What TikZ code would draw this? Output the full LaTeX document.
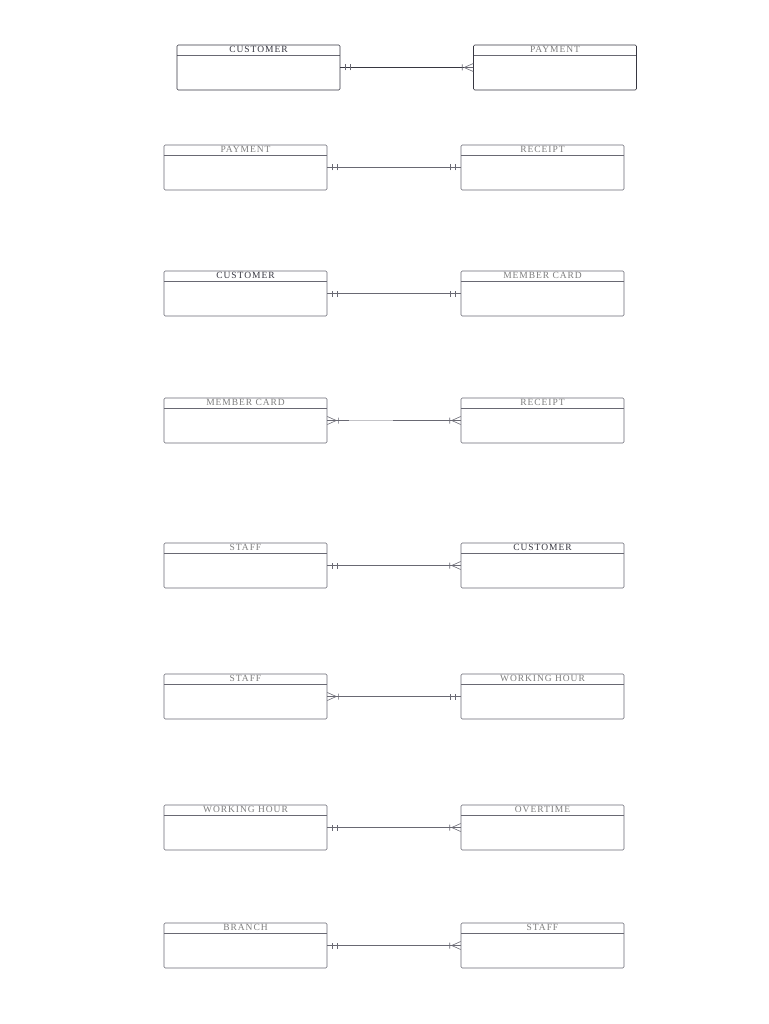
\documentclass[tikz,border=0pt]{standalone}
\usepackage{fontspec}
\setmainfont{Liberation Serif}
\newfontfamily\erfont[LetterSpace=10]{Liberation Serif}
\usepackage{xcolor}
\usetikzlibrary{positioning}
\usetikzlibrary{decorations.markings}

\definecolor{erline}{RGB}{105,105,115}
\definecolor{ertext}{RGB}{125,125,125}
\definecolor{erdark}{RGB}{55,55,65}

\tikzset{
entity/.style={draw=erline, line width=0.6pt, rounded corners=1.2pt,
  minimum width=163pt, minimum height=45pt, inner sep=0pt,
  path picture={\draw[erline, line width=0.6pt]
    ([yshift=-10pt]path picture bounding box.north west) --
    ([yshift=-10pt]path picture bounding box.north east);}},
head/.style={font=\erfont\fontsize{9.5}{9.5}\selectfont, text=ertext, inner sep=0pt},
headdark/.style={head, text=erdark},
rel/.style={draw=erline, line width=0.6pt},
% mandatory one, at the start or the end of a relation
onestart/.style={postaction={decorate, decoration={markings,
  mark=at position 5pt with {\draw[erline, line width=0.6pt] (0,-3pt)--(0,3pt);},
  mark=at position 10pt with {\draw[erline, line width=0.6pt] (0,-3pt)--(0,3pt);}}}},
oneend/.style={postaction={decorate, decoration={markings,
  mark=at position -5pt with {\draw[erline, line width=0.6pt] (0,-3pt)--(0,3pt);},
  mark=at position -10pt with {\draw[erline, line width=0.6pt] (0,-3pt)--(0,3pt);}}}},
% one or many
manystart/.style={postaction={decorate, decoration={markings,
  mark=at position 0pt with {\draw[erline, line width=0.6pt]
    (0,4pt)--(9pt,0)--(0,-4pt) (0,0)--(9pt,0) (11pt,-3pt)--(11pt,3pt);}}}},
manyend/.style={postaction={decorate, decoration={markings,
  mark=at position 1 with {\draw[erline, line width=0.6pt]
    (0,4pt)--(-9pt,0)--(0,-4pt) (0,0)--(-9pt,0) (-11pt,-3pt)--(-11pt,3pt);}}}},
}

\begin{document}
\begin{tikzpicture}[x=1pt, y=-1pt]

\useasboundingbox (0,0) rectangle (768,1024);

% row 1
\node[entity, draw=erdark] (cust1) at (258.5,67.5) {};
\node[entity, draw=erdark] (pay1) at (555,67.5) {};
\node[headdark] (cust1t) at ([yshift=-5pt]cust1.north) {CUSTOMER};
\node[head] (pay1t) at ([yshift=-5pt]pay1.north) {PAYMENT};
\draw[rel, draw=erdark, onestart, manyend] (cust1.east) -- (pay1.west);

% row 2
\node[entity] (pay2) at (245.5,167.5) {};
\node[entity] (rec2) at (542.5,167.5) {};
\node[head] (pay2t) at ([yshift=-5pt]pay2.north) {PAYMENT};
\node[head] (rec2t) at ([yshift=-5pt]rec2.north) {RECEIPT};
\draw[rel, onestart, oneend] (pay2.east) -- (rec2.west);

% row 3
\node[entity] (cust3) at (245.5,293.5) {};
\node[entity] (card3) at (542.5,293.5) {};
\node[headdark] (cust3t) at ([yshift=-5pt]cust3.north) {CUSTOMER};
\node[head] (card3t) at ([yshift=-5pt]card3.north) {MEMBER CARD};
\draw[rel, onestart, oneend] (cust3.east) -- (card3.west);

% row 4
\node[entity] (card4) at (245.5,420.5) {};
\node[entity] (rec4) at (542.5,420.5) {};
\node[head] (card4t) at ([yshift=-5pt]card4.north) {MEMBER CARD};
\node[head] (rec4t) at ([yshift=-5pt]rec4.north) {RECEIPT};
\draw[rel, manystart, manyend] (card4.east) -- (rec4.west);
\draw[white, opacity=0.6, line width=1.2pt] ([xshift=22pt]card4.east) -- ([xshift=-68pt]rec4.west);

% row 5
\node[entity] (staff5) at (245.5,565.5) {};
\node[entity] (cust5) at (542.5,565.5) {};
\node[head] (staff5t) at ([yshift=-5pt]staff5.north) {STAFF};
\node[headdark] (cust5t) at ([yshift=-5pt]cust5.north) {CUSTOMER};
\draw[rel, onestart, manyend] (staff5.east) -- (cust5.west);

% row 6
\node[entity] (staff6) at (245.5,696.5) {};
\node[entity] (hour6) at (542.5,696.5) {};
\node[head] (staff6t) at ([yshift=-5pt]staff6.north) {STAFF};
\node[head] (hour6t) at ([yshift=-5pt]hour6.north) {WORKING HOUR};
\draw[rel, manystart, oneend] (staff6.east) -- (hour6.west);

% row 7
\node[entity] (hour7) at (245.5,827.5) {};
\node[entity] (over7) at (542.5,827.5) {};
\node[head] (hour7t) at ([yshift=-5pt]hour7.north) {WORKING HOUR};
\node[head] (over7t) at ([yshift=-5pt]over7.north) {OVERTIME};
\draw[rel, onestart, manyend] (hour7.east) -- (over7.west);

% row 8
\node[entity] (branch8) at (245.5,945.5) {};
\node[entity] (staff8) at (542.5,945.5) {};
\node[head] (branch8t) at ([yshift=-5pt]branch8.north) {BRANCH};
\node[head] (staff8t) at ([yshift=-5pt]staff8.north) {STAFF};
\draw[rel, onestart, manyend] (branch8.east) -- (staff8.west);

\end{tikzpicture}
\end{document}
